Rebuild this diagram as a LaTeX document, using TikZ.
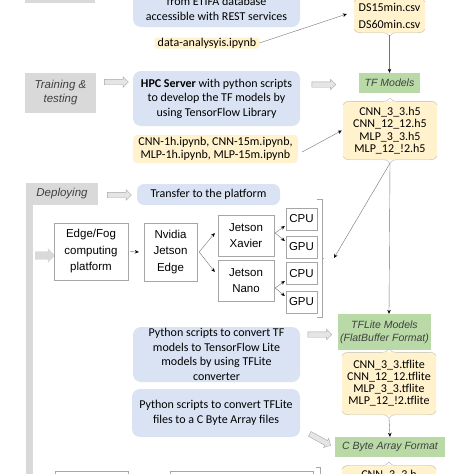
\documentclass[tikz,border=0pt]{standalone}
\usepackage{fontspec}
\setmainfont{Carlito}
\newfontfamily\arialfont{Liberation Sans}
\usetikzlibrary{shapes.arrows, decorations.pathreplacing, arrows.meta, calc, positioning}
\definecolor{lblue}{HTML}{DAE3F3}
\definecolor{lyellow}{HTML}{FFF2CC}
\definecolor{lgreen}{HTML}{B9DAA6}
\definecolor{lgray}{HTML}{D9D9D9}
\definecolor{lbrace}{HTML}{BFBFBF}
\definecolor{ltext}{HTML}{404040}
\tikzset{
  % fase del processo (etichetta grigia)
  phase/.style={fill=lgray, inner sep=0pt, align=center, text=ltext,
    font=\arialfont\itshape\fontsize{11.5}{14}\selectfont},
  % attivita' (riquadro azzurro)
  task/.style={fill=lblue, rounded corners=8pt, inner sep=0pt, align=center,
    font=\fontsize{12}{14.5}\selectfont},
  % file prodotti (riquadro giallo)
  files/.style={fill=lyellow, rounded corners=4pt, inner sep=0pt, align=center,
    font=\fontsize{12}{12.5}\selectfont},
  % formato del modello (riquadro verde)
  fmt/.style={fill=lgreen, inner sep=0pt, align=center, text=ltext,
    font=\arialfont\itshape\fontsize{10.5}{13}\selectfont},
  % dispositivo hardware
  hw/.style={draw=gray!70, fill=white, inner sep=0pt, align=center,
    font=\arialfont\fontsize{11.5}{16.5}\selectfont},
  % frecce vuote fra le colonne
  hollow/.style={single arrow, draw=gray!70, fill=gray!20, minimum height=24pt,
    minimum width=10pt, single arrow head extend=2.5pt, inner sep=2.5pt},
  solidarrow/.style={single arrow, fill=lgray, minimum height=20pt,
    minimum width=14pt, single arrow head extend=3pt, inner sep=4pt},
  % collegamenti
  link/.style={draw=gray!90!black, -{Stealth[length=4pt, width=3.5pt, black]}},
  filebrace/.style={draw=lbrace, decorate, decoration={brace, amplitude=7pt}},
}

\begin{document}
\begin{tikzpicture}[x=1pt, y=-1pt]
  \useasboundingbox (0,0) rectangle (474,474);
  \clip (0,0) rectangle (474,474);
  % colonna sinistra: fasi
  \fill[lgray] (25,-30) rectangle (95,3);
  \node[phase, minimum width=71pt, minimum height=40pt] (train) at (60.5,93) {Training \&\\testing};
  \node[phase, minimum width=72pt, minimum height=22pt] (deploy) at (62,194) {Deploying};
  \fill[lgray] (26,194) rectangle (33,480);
  \node[solidarrow] (push) at (43,255.5) {};
  % attivita'
  \node[task, minimum width=167pt, minimum height=36pt] (etifa) at (216.5,9) {from ETIFA database\\accessible with REST services};
  \node[files, rounded corners=2pt, inner xsep=3pt, minimum height=11pt] (dana) at (207,43) {data-analysyis.ipynb};
  \node[task, minimum width=167pt, minimum height=55pt] (hpc) at (216.5,98.5) {\textbf{HPC Server} with python scripts\\to develop the TF models by\\using TensorFlow Library};
  \node[files, minimum width=165pt, minimum height=28pt] (ipy) at (215.5,149) {CNN-1h.ipynb, CNN-15m.ipynb,\\MLP-1h.ipynb, MLP-15m.ipynb};
  \node[task, rounded corners=7pt, minimum width=143pt, minimum height=21pt] (transfer) at (208.5,194.5) {Transfer to the platform};
  \node[task, minimum width=167pt, minimum height=55pt] (tfconv) at (216.5,354.5) {Python scripts to convert TF\\models to TensorFlow Lite\\models by using TFLite\\converter};
  \node[task, minimum width=168pt, minimum height=48pt] (cconv) at (216,413) {Python scripts to convert TFLite\\files to a C Byte Array files};
  % hardware
  \node[hw, minimum width=74pt, minimum height=57pt] (edge) at (91,251.5) {Edge/Fog\\computing\\platform};
  \node[hw, minimum width=53pt, minimum height=58pt] (jedge) at (170.5,252) {Nvidia\\Jetson\\Edge};
  \node[hw, minimum width=56pt, minimum height=41pt] (xav) at (246,235.5) {Jetson\\Xavier};
  \node[hw, minimum width=56pt, minimum height=41pt] (nano) at (246,280.5) {Jetson\\Nano};
  \foreach \n/\t/\y in {cpu1/CPU/219, gpu1/GPU/247, cpu2/CPU/273.5, gpu2/GPU/302} {
    \node[hw, minimum width=31pt, minimum height=22pt] (\n) at (301.5,\y) {\t};
  }
  \node[hw, minimum width=73pt, minimum height=60pt] (bot1) at (91.5,501) {};
  \node[hw, minimum width=143pt, minimum height=60pt] (bot2) at (241.5,501) {};
  \draw[gray!70] (317,199) -- (322,199) -- (322,317) -- (317,317);
  \draw[gray!70] (322,258) -- (324,258) coordinate (brk);
  \draw[gray!70] (316,467) -- (320,467) -- (320,480);
  % colonna destra: modelli e file
  \node[files, minimum width=71pt, minimum height=35pt] (ds) at (389.5,15.5) {DS15min.csv\\[4.5pt]DS60min.csv};
  \node[fmt, minimum width=61pt, minimum height=20pt] (tfm) at (389.5,83) {TF Models};
  \node[files, minimum width=94pt, minimum height=59pt] (h5) at (390,130.5) {CNN\_3\_3.h5\\CNN\_12\_12.h5\\MLP\_3\_3.h5\\MLP\_12\_!2.h5};
  \node[fmt, minimum width=93pt, minimum height=36pt] (tflm) at (384.5,332) {TFLite Models\\(FlatBuffer Format)};
  \node[files, font=\fontsize{12}{12}\selectfont, minimum width=94pt, minimum height=63pt] (tflite) at (389,383.5) {CNN\_3\_3.tflite\\CNN\_12\_12.tflite\\MLP\_3\_3.tflite\\MLP\_12\_!2.tflite};
  \node[fmt, minimum width=110pt, minimum height=20pt] (cbyte) at (390,447) {C Byte Array Format};
  \node[files, minimum width=94pt, minimum height=55pt, anchor=north, text height=12pt, text depth=40pt] (ch) at (389,465) {CNN\_3\_3.h};
  \foreach \f in {ds, h5, tflite, ch} {
    \draw[filebrace] ([yshift=-4pt]\f.north west) -- ([yshift=-4pt]\f.north east);
    \draw[filebrace] ([yshift=4pt]\f.south east) -- ([yshift=4pt]\f.south west);
  }
  % frecce vuote
  \node[hollow] (a1) at (115,82) {};
  \node[hollow] (a2) at (322.5,84.5) {};
  \node[hollow] (a3) at (118,195) {};
  \node[hollow] (a4) at (318.5,334.5) {};
  \node[hollow, rotate=-29] (a5) at (319,439) {};
  % collegamenti
  \draw[link] (dana.east) -- ([xshift=-7pt, yshift=1.5pt]ds.west);
  \draw[link] ([yshift=-2pt]ds.south) -- (tfm.north);
  \draw[link] ([xshift=4pt, yshift=-3pt]ipy.east) -- ([xshift=-1pt]h5.west);
  \draw[link] ([yshift=-3pt]h5.south) -- ([xshift=10pt]brk);
  \draw[link] ([yshift=-3pt]h5.south) -- ([xshift=4.5pt]tflm.north);
  \draw[link] ([yshift=-3pt]tflite.south) -- (cbyte.north);
  \draw[link] ([xshift=2pt]edge.east) -- ([xshift=-5pt]jedge.west);
  \draw[link] ([xshift=2pt]jedge.east) -- ([xshift=-3pt, yshift=2.5pt]xav.west);
  \draw[link] ([xshift=2pt]jedge.east) -- ([xshift=-3pt, yshift=8.5pt]nano.west);
  \draw[link] ([xshift=1pt, yshift=2.5pt]xav.east) -- ([xshift=-1pt, yshift=-7pt]cpu1.west);
  \draw[link] ([xshift=1pt, yshift=2.5pt]xav.east) -- ([xshift=-1pt, yshift=6pt]gpu1.west);
  \draw[link] ([xshift=1pt, yshift=-7.5pt]nano.east) -- ([xshift=-1pt, yshift=-7.5pt]cpu2.west);
  \draw[link] ([xshift=1pt, yshift=-7.5pt]nano.east) -- ([xshift=-1pt, yshift=6pt]gpu2.west);
\end{tikzpicture}
\end{document}
